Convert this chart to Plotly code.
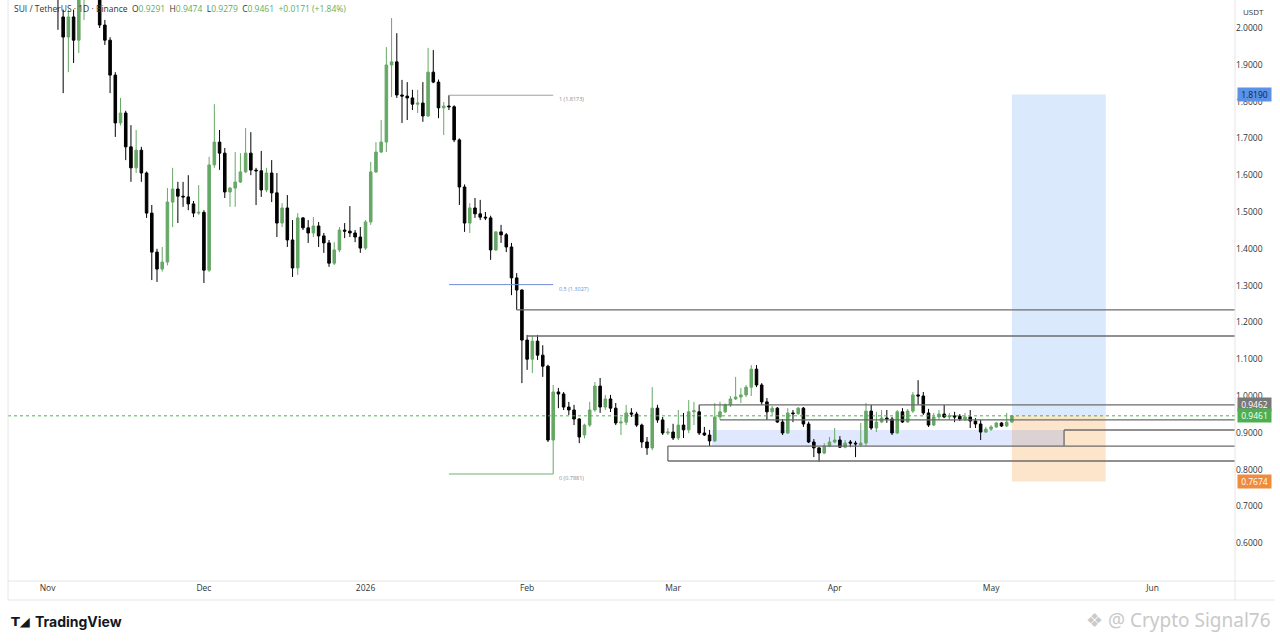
import pandas as pd
import plotly.graph_objects as go

# ---------------- data ----------------
dates = pd.date_range("2025-11-03", periods=184, freq="D")

opens = [2.13, 2.03, 1.9755, 2.03, 1.967, 2.10, 2.12, 2.15, 2.14, 2.008,
         1.967, 1.872, 1.742, 1.769, 1.677, 1.620, 1.668, 1.606, 1.497, 1.391,
         1.345, 1.364, 1.527, 1.5625, 1.543, 1.541, 1.522, 1.497, 1.499, 1.342,
         1.628, 1.690, 1.660, 1.5544, 1.565, 1.5815, 1.609, 1.660, 1.614, 1.612,
         1.560, 1.606, 1.552, 1.470, 1.511, 1.424, 1.348, 1.484, 1.457, 1.443,
         1.462, 1.435, 1.416, 1.361, 1.397, 1.451, 1.448, 1.443, 1.432, 1.402,
         1.473, 1.609, 1.663, 1.690, 1.8995, 1.908, 1.818, 1.815, 1.810, 1.793,
         1.796, 1.761, 1.880, 1.853, 1.783, 1.788, 1.786, 1.696, 1.568, 1.470,
         1.511, 1.495, 1.486, 1.484, 1.397, 1.446, 1.438, 1.405, 1.321, 1.288,
         1.152, 1.100, 1.149, 1.111, 1.081, 0.8804, 1.011, 1.0055, 0.970, 0.962,
         0.9375, 0.894, 0.921, 0.962, 1.027, 0.970, 0.992, 0.967, 0.9267, 0.929,
         0.954, 0.951, 0.921, 0.875, 0.859, 0.967, 0.935, 0.8995, 0.902, 0.886,
         0.921, 0.908, 0.957, 0.957, 0.8995, 0.894, 0.878, 0.943, 0.957, 0.976,
         0.992, 0.9973, 1.003, 1.024, 1.073, 1.030, 0.984, 0.957, 0.967, 0.9293,
         0.8995, 0.954, 0.952, 0.967, 0.924, 0.875, 0.859, 0.845, 0.864, 0.875,
         0.8804, 0.861, 0.875, 0.872, 0.867, 0.872, 0.959, 0.913, 0.9293, 0.940,
         0.9375, 0.8995, 0.957, 0.9293, 0.959, 1.003, 1.000, 0.954, 0.921, 0.943,
         0.951, 0.943, 0.946, 0.945, 0.9375, 0.943, 0.932, 0.924, 0.902, 0.910,
         0.916, 0.9267, 0.9185, 0.9291]

highs = [2.16, 2.05, 2.05, 2.05, 2.13, 2.16, 2.18, 2.19, 2.17, 2.022,
         1.975, 1.88, 1.810, 1.775, 1.736, 1.723, 1.677, 1.61, 1.519, 1.40,
         1.405, 1.565, 1.620, 1.582, 1.582, 1.600, 1.53, 1.573, 1.505, 1.650,
         1.793, 1.723, 1.674, 1.568, 1.663, 1.660, 1.728, 1.717, 1.620, 1.666,
         1.620, 1.641, 1.606, 1.524, 1.546, 1.478, 1.497, 1.486, 1.478, 1.486,
         1.473, 1.443, 1.424, 1.418, 1.459, 1.470, 1.516, 1.451, 1.459, 1.478,
         1.636, 1.690, 1.750, 1.948, 2.027, 1.986, 1.859, 1.853, 1.832, 1.832,
         1.853, 1.946, 1.940, 1.86, 1.799, 1.8173, 1.79, 1.70, 1.575, 1.524,
         1.538, 1.533, 1.500, 1.49, 1.448, 1.465, 1.443, 1.416, 1.334, 1.290,
         1.166, 1.163, 1.166, 1.138, 1.085, 1.030, 1.022, 1.011, 0.984, 0.976,
         0.940, 0.925, 0.984, 1.038, 1.049, 1.003, 1.003, 0.981, 0.943, 0.976,
         0.967, 0.957, 0.925, 0.8886, 1.024, 0.976, 0.943, 0.913, 0.9245, 0.962,
         0.954, 0.989, 0.984, 0.976, 0.916, 0.908, 0.981, 0.9845, 0.9795, 1.0,
         1.052, 1.022, 1.030, 1.084, 1.084, 1.035, 0.9946, 0.973, 0.970, 0.9375,
         0.967, 0.962, 0.970, 0.970, 0.93, 0.883, 0.861, 0.872, 0.8886, 0.913,
         0.891, 0.8804, 0.8804, 0.878, 0.9267, 0.981, 0.976, 0.957, 0.962, 0.962,
         0.943, 0.962, 0.967, 0.965, 1.011, 1.043, 1.011, 0.965, 0.954, 0.962,
         0.976, 0.954, 0.957, 0.951, 0.954, 0.962, 0.940, 0.935, 0.916, 0.921,
         0.929, 0.929, 0.954, 0.9474]

lows = [1.995, 1.823, 1.880, 1.905, 1.932, 2.022, 2.09, 2.08, 2.0, 1.954,
        1.823, 1.704, 1.735, 1.641, 1.582, 1.606, 1.582, 1.484, 1.315, 1.310,
        1.338, 1.355, 1.459, 1.470, 1.514, 1.505, 1.486, 1.492, 1.307, 1.337,
        1.62, 1.6145, 1.538, 1.514, 1.514, 1.579, 1.606, 1.600, 1.519, 1.541,
        1.554, 1.527, 1.432, 1.459, 1.405, 1.3234, 1.329, 1.451, 1.416, 1.432,
        1.405, 1.389, 1.351, 1.356, 1.391, 1.429, 1.432, 1.418, 1.389, 1.397,
        1.465, 1.606, 1.660, 1.663, 1.8125, 1.810, 1.742, 1.750, 1.777, 1.769,
        1.745, 1.758, 1.850, 1.755, 1.709, 1.777, 1.69, 1.519, 1.446, 1.443,
        1.484, 1.478, 1.478, 1.370, 1.394, 1.416, 1.391, 1.274, 1.234, 1.035,
        1.071, 1.0625, 1.098, 1.052, 0.875, 0.7881, 0.967, 0.962, 0.9484, 0.921,
        0.872, 0.885, 0.916, 0.957, 0.954, 0.962, 0.9565, 0.921, 0.894, 0.921,
        0.943, 0.916, 0.859, 0.840, 0.853, 0.927, 0.894, 0.894, 0.8804, 0.8804,
        0.886, 0.899, 0.921, 0.894, 0.8913, 0.864, 0.875, 0.935, 0.954, 0.970,
        0.989, 0.981, 0.997, 1.0, 1.024, 0.976, 0.935, 0.9484, 0.927, 0.894,
        0.897, 0.929, 0.9484, 0.916, 0.872, 0.834, 0.821, 0.842, 0.861, 0.872,
        0.859, 0.858, 0.861, 0.834, 0.864, 0.864, 0.908, 0.902, 0.927, 0.927,
        0.894, 0.897, 0.927, 0.927, 0.954, 0.976, 0.9484, 0.916, 0.918, 0.935,
        0.940, 0.935, 0.929, 0.932, 0.932, 0.913, 0.913, 0.8804, 0.8995, 0.905,
        0.913, 0.916, 0.916, 0.9279]

closes = [2.09, 1.9755, 2.030, 1.967, 2.10, 2.12, 2.15, 2.14, 2.008, 1.967,
          1.872, 1.742, 1.769, 1.677, 1.620, 1.668, 1.606, 1.497, 1.391, 1.345,
          1.364, 1.527, 1.5625, 1.543, 1.541, 1.522, 1.497, 1.499, 1.342, 1.628,
          1.690, 1.660, 1.5544, 1.565, 1.5815, 1.609, 1.660, 1.614, 1.612, 1.560,
          1.606, 1.552, 1.470, 1.511, 1.424, 1.348, 1.484, 1.457, 1.443, 1.462,
          1.435, 1.416, 1.361, 1.397, 1.451, 1.448, 1.443, 1.432, 1.402, 1.473,
          1.609, 1.663, 1.690, 1.8995, 1.908, 1.818, 1.815, 1.810, 1.793, 1.796,
          1.761, 1.880, 1.853, 1.783, 1.788, 1.786, 1.696, 1.568, 1.470, 1.511,
          1.495, 1.486, 1.484, 1.397, 1.446, 1.438, 1.405, 1.321, 1.288, 1.152,
          1.100, 1.149, 1.111, 1.081, 0.8804, 1.011, 1.0055, 0.970, 0.962, 0.9375,
          0.8886, 0.921, 0.962, 1.027, 0.970, 0.992, 0.967, 0.9267, 0.929, 0.954,
          0.951, 0.921, 0.875, 0.859, 0.967, 0.935, 0.8995, 0.902, 0.886, 0.921,
          0.908, 0.957, 0.960, 0.8995, 0.894, 0.878, 0.943, 0.957, 0.976, 0.992,
          0.9973, 1.003, 1.024, 1.073, 1.030, 0.984, 0.957, 0.967, 0.9293, 0.8995,
          0.954, 0.952, 0.967, 0.924, 0.875, 0.859, 0.845, 0.864, 0.875, 0.8804,
          0.861, 0.872, 0.872, 0.870, 0.872, 0.959, 0.913, 0.9293, 0.940, 0.9375,
          0.8995, 0.957, 0.9293, 0.959, 1.003, 1.000, 0.954, 0.921, 0.943, 0.951,
          0.943, 0.946, 0.943, 0.9375, 0.943, 0.932, 0.924, 0.902, 0.910, 0.916,
          0.9267, 0.9185, 0.9290, 0.9461]

price_ticks = [0.6, 0.7, 0.8, 0.9, 1.0, 1.1, 1.2, 1.3, 1.4, 1.5, 1.6, 1.7, 1.8, 1.9, 2.0]
month_ticks = ["2025-11-01", "2025-12-01", "2026-01-01", "2026-02-01",
               "2026-03-01", "2026-04-01", "2026-05-01", "2026-06-01"]
month_labels = ["Nov", "Dec", "2026", "Feb", "Mar", "Apr", "May", "Jun"]

# horizontal support / resistance levels and where they begin
levels = [1.234, 1.163, 0.976, 0.935, 0.9076, 0.864, 0.8234]
level_starts = ["2026-01-30", "2026-02-01", "2026-03-06", "2026-03-10",
                "2026-05-15", "2026-02-28", "2026-02-28"]

# demand zone
zone_low, zone_high = 0.864, 0.9076
zone_start, zone_end = "2026-03-08 12:00", "2026-05-15"

# fibonacci retracement
fib_high, fib_low = 1.8173, 0.7881
fib_start, fib_end = "2026-01-17", "2026-02-06"

# long position tool
entry, target, stop = 0.9462, 1.8190, 0.7674
pos_start, pos_end = "2026-05-05", "2026-05-23"

x_range = ["2025-10-24 10:00", "2026-06-16 19:00"]
y_range = [0.4973, 2.0761]

GREEN = "#66a866"
FONT = "Open Sans"

fig = go.Figure()

fig.add_trace(go.Candlestick(
    x=dates, open=opens, high=highs, low=lows, close=closes,
    increasing=dict(line=dict(color=GREEN, width=1), fillcolor=GREEN),
    decreasing=dict(line=dict(color="#000000", width=1), fillcolor="#000000"),
    whiskerwidth=0, showlegend=False, hoverinfo="skip",
))

shapes = []
# long position zones
shapes.append(dict(type="rect", xref="x", yref="y", x0=pos_start, x1=pos_end,
                   y0=entry, y1=target, fillcolor="rgba(33,120,243,0.16)",
                   line=dict(width=0), layer="below"))
shapes.append(dict(type="rect", xref="x", yref="y", x0=pos_start, x1=pos_end,
                   y0=stop, y1=entry, fillcolor="rgba(245,124,0,0.20)",
                   line=dict(width=0), layer="below"))
# demand zone
shapes.append(dict(type="rect", xref="x", yref="y", x0=zone_start, x1=zone_end,
                   y0=zone_low, y1=zone_high, fillcolor="rgba(41,98,255,0.15)",
                   line=dict(width=0), layer="below"))
shapes.append(dict(type="line", xref="x", yref="y", x0=zone_end, x1=zone_end,
                   y0=zone_low, y1=zone_high, line=dict(color="#6b6b6b", width=1.3)))
shapes.append(dict(type="line", xref="x", yref="y", x0=level_starts[5], x1=level_starts[5],
                   y0=levels[6], y1=levels[5], line=dict(color="#6b6b6b", width=1.3)))
# horizontal levels
for lv, st in zip(levels, level_starts):
    shapes.append(dict(type="line", xref="x", yref="y", x0=st, x1=x_range[1],
                       y0=lv, y1=lv, line=dict(color="#6b6b6b", width=1.3)))
# fib lines
fib_levels = [(1.0, "#a0a0a0"), (0.5, "#6d8fd8"), (0.0, "#6fae6f")]
for lvl, col in fib_levels:
    val = fib_low + (fib_high - fib_low) * lvl
    shapes.append(dict(type="line", xref="x", yref="y", x0=fib_start, x1=fib_end,
                       y0=val, y1=val, line=dict(color=col, width=1)))
# last price dotted line
shapes.append(dict(type="line", xref="paper", yref="y", x0=0, x1=1,
                   y0=closes[-1], y1=closes[-1],
                   line=dict(color="#4caf50", width=1, dash="dot")))
# frame lines
frame = "#e6e6e6"
shapes += [
    dict(type="line", xref="paper", yref="paper", x0=1, x1=1, y0=-0.0327, y1=1,
         line=dict(color=frame, width=1)),
    dict(type="line", xref="paper", yref="paper", x0=0, x1=0, y0=-0.0327, y1=1,
         line=dict(color=frame, width=1)),
    dict(type="line", xref="paper", yref="paper", x0=0, x1=1.0326, y0=0, y1=0,
         line=dict(color=frame, width=1)),
    dict(type="line", xref="paper", yref="paper", x0=0, x1=1.0326, y0=-0.0327, y1=-0.0327,
         line=dict(color=frame, width=1)),
]

ann = []
# header
last_o, last_h, last_l, last_c = opens[-1], highs[-1], lows[-1], closes[-1]
chg = last_c - closes[-2]
pct = chg / closes[-2] * 100
g = "#5cae5f"
header = ("SUI / TetherUS · 1D · Binance  "
          f"O<span style='color:{g}'>{last_o:.4f}</span>  "
          f"H<span style='color:{g}'>{last_h:.4f}</span>  "
          f"L<span style='color:{g}'>{last_l:.4f}</span>  "
          f"C<span style='color:{g}'>{last_c:.4f}</span>  "
          f"<span style='color:{g}'>{chg:+.4f} ({pct:+.2f}%)</span>")
ann.append(dict(text=header, xref="paper", yref="paper", x=0.0033, y=1 - 9 / 581,
                xanchor="left", yanchor="middle", showarrow=False,
                font=dict(family=FONT, size=8.5, color="#333333")))
# fib labels
for lvl, col in fib_levels:
    val = fib_low + (fib_high - fib_low) * lvl
    lab = f"{lvl:g} ({val:.4f})"
    ann.append(dict(text=lab, xref="x", yref="y", x=fib_end, y=val, xshift=4, yshift=-4,
                    xanchor="left", yanchor="middle", showarrow=False,
                    font=dict(family=FONT, size=5.5,
                              color="#6d8fd8" if lvl == 0.5 else "#8a8a8a")))
# price tags on the axis
def tag(val, bg, fg, yshift=0, text=None):
    return dict(text=text or f"{val:.4f}", xref="paper", yref="y", x=1.0016, y=val,
                yshift=yshift, xanchor="left", yanchor="middle", showarrow=False,
                bgcolor=bg, font=dict(family=FONT, size=8.5, color=fg),
                borderpad=1, width=31)
ann.append(tag(target, "#5b92e5", "#10224a"))
ann.append(tag(entry, "#787878", "#ffffff", yshift=11))
ann.append(tag(last_c, "#4caf50", "#ffffff"))
ann.append(tag(stop, "#f08a3c", "#ffffff"))
# axis unit
ann.append(dict(text="USDT", xref="paper", yref="paper", x=1.0147, y=1 - 11 / 581,
                xanchor="center", yanchor="middle", showarrow=False,
                font=dict(family=FONT, size=8, color="#333333")))
# footer
ann.append(dict(text="<b>TradingView</b>", xref="paper", yref="paper",
                x=(33 - 8) / 1227, y=(581 - 621) / 581, xanchor="left", yanchor="middle",
                showarrow=False, font=dict(family="Inter", size=14, color="#131722")))
ann.append(dict(text="<b>ꓔ◢</b>", xref="paper", yref="paper",
                x=(9 - 8) / 1227, y=(581 - 621) / 581, xanchor="left", yanchor="middle",
                showarrow=False, font=dict(family="DejaVu Sans", size=13, color="#131722")))
ann.append(dict(text="❖ @ Crypto Signal76", xref="paper", yref="paper",
                x=(1273 - 8) / 1227, y=(581 - 620) / 581, xanchor="right", yanchor="middle",
                showarrow=False, font=dict(family="Noto Sans", size=19, color="#c9c9c9")))

fig.update_layout(
    width=1280, height=642, autosize=False,
    margin=dict(l=8, r=45, t=0, b=61),
    paper_bgcolor="#ffffff", plot_bgcolor="#ffffff",
    shapes=shapes, annotations=ann,
    xaxis=dict(range=x_range, rangeslider=dict(visible=False), showgrid=False,
               zeroline=False, showline=False, ticks="",
               tickvals=month_ticks, ticktext=month_labels,
               tickfont=dict(family=FONT, size=8.5, color="#333333")),
    yaxis=dict(range=y_range, side="right", showgrid=False, zeroline=False,
               showline=False, ticks="", tickvals=price_ticks, tickformat=".4f",
               tickfont=dict(family=FONT, size=8.5, color="#333333")),
    hovermode=False,
)

fig.write_html("out.html", config={"displayModeBar": False},
               post_script="document.body.style.margin='0';")
